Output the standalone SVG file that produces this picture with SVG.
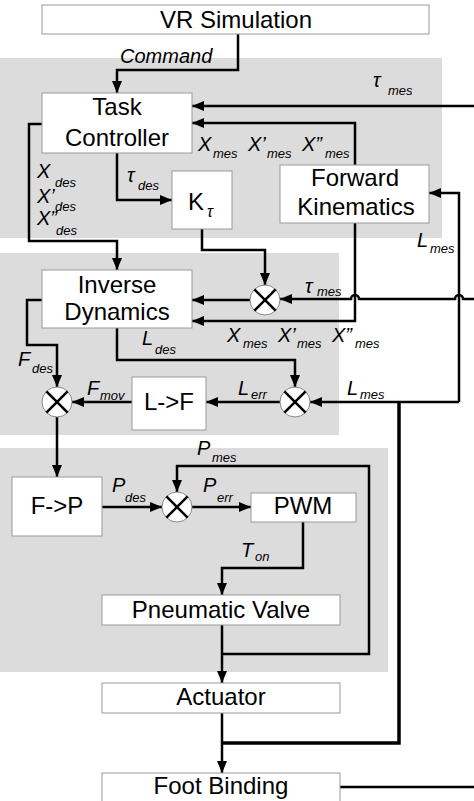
<svg xmlns="http://www.w3.org/2000/svg" width="474" height="801" viewBox="0 0 474 801">
<style>
.panel{fill:#dcdcdc;stroke:none}
.box{fill:#fff;stroke:#999;stroke-width:1}
.lbl{font-family:"Liberation Sans",Arial,sans-serif;font-size:24px;text-anchor:middle;fill:#000}
.it{font-family:"Liberation Sans",Arial,sans-serif;font-style:italic;font-size:20px;fill:#000}
.sub{font-size:13px}
.wire{fill:none;stroke:#000;stroke-width:2.5}
.thick{fill:none;stroke:#000;stroke-width:3.5}
.arr{marker-end:url(#ah)}
.sumc{fill:#fff;stroke:#888;stroke-width:1}
.sumx{stroke:#000;stroke-width:2.5}
</style>
<defs>
<marker id="ah" markerUnits="userSpaceOnUse" markerWidth="12" markerHeight="10" refX="12" refY="5" orient="auto">
<path d="M0,0 L12,5 L0,10 z" fill="#000"/>
</marker>
<g id="sumshape">
<circle cx="0" cy="0" r="15" class="sumc"/>
<line x1="-10.6" y1="-10.6" x2="10.6" y2="10.6" class="sumx"/>
<line x1="-10.6" y1="10.6" x2="10.6" y2="-10.6" class="sumx"/>
</g>
</defs>
<rect x="0" y="0" width="474" height="801" fill="#fff"/>
<g id="panels">
<rect class="panel" x="0" y="58" width="442" height="180"/>
<rect class="panel" x="0" y="253" width="339" height="182"/>
<rect class="panel" x="0" y="448" width="388" height="224"/>
</g>
<g id="connectors">
<path class="wire arr" d="M238,34 V70 H117 V93"/>
<path class="wire arr" d="M474,106 H192"/>
<path class="wire arr" d="M355,165 V123 H192"/>
<path class="wire arr" d="M117,153 V200 H172"/>
<path class="wire arr" d="M42,124 H29 V241 H117 V270"/>
<path class="wire arr" d="M202,229 V250 H265 V285"/>
<path class="wire arr" d="M250,300 H192"/>
<path class="wire arr" d="M474,299 H463 A4,4 0 0 0 455,299 H359 A4,4 0 0 0 351,299 H280"/>
<path class="wire arr" d="M355,223 V321 H192"/>
<path class="wire arr" d="M117,328 V360 H295 V387"/>
<path class="wire arr" d="M42,300 H27 V345 H57 V387"/>
<path class="wire arr" d="M132,402 H72"/>
<path class="wire arr" d="M280,402 H206"/>
<path class="wire arr" d="M459,402 H310"/>
<path class="wire arr" d="M459,402 V193 H429"/>
<path class="thick" d="M222,743 H399 V402"/>
<path class="wire arr" d="M57,417 V477"/>
<path class="wire arr" d="M102,507 H162"/>
<path class="wire arr" d="M192,507 H251"/>
<path class="wire arr" d="M303,522 V568 H222 V595"/>
<path class="wire arr" d="M222,625 V683"/>
<path class="wire arr" d="M222,654 H369 V466 H177 V492"/>
<path class="wire arr" d="M222,713 V773"/>
<path class="wire" d="M340,787 H474"/>
</g>
<g id="vr-simulation">
<rect class="box" x="42" y="5" width="387" height="29"/>
<text class="lbl" x="236" y="28">VR Simulation</text>
</g>
<g id="task-controller">
<rect class="box" x="42" y="93" width="150" height="60"/>
<text class="lbl" x="117" y="115">Task</text>
<text class="lbl" x="117" y="146">Controller</text>
</g>
<g id="k-tau">
<rect class="box" x="172" y="171" width="60" height="58"/>
<text class="lbl" x="188" y="210" style="text-anchor:start">K</text>
<text class="it" x="207" y="217" style="font-size:16px">τ</text>
</g>
<g id="forward-kinematics">
<rect class="box" x="280" y="165" width="149" height="58"/>
<text class="lbl" x="355" y="186">Forward</text>
<text class="lbl" x="356" y="215">Kinematics</text>
</g>
<g id="inverse-dynamics">
<rect class="box" x="42" y="270" width="150" height="58"/>
<text class="lbl" x="117" y="293">Inverse</text>
<text class="lbl" x="117" y="320">Dynamics</text>
</g>
<g id="sum-tau">
<use href="#sumshape" x="265" y="300"/>
</g>
<g id="l-to-f">
<rect class="box" x="132" y="377" width="74" height="53"/>
<text class="lbl" x="169" y="410">L-&gt;F</text>
</g>
<g id="sum-f">
<use href="#sumshape" x="57" y="402"/>
</g>
<g id="sum-l">
<use href="#sumshape" x="295" y="402"/>
</g>
<g id="f-to-p">
<rect class="box" x="12" y="477" width="90" height="59"/>
<text class="lbl" x="57" y="514">F-&gt;P</text>
</g>
<g id="sum-p">
<use href="#sumshape" x="177" y="507"/>
</g>
<g id="pwm">
<rect class="box" x="251" y="493" width="105" height="29"/>
<text class="lbl" x="303" y="514">PWM</text>
</g>
<g id="pneumatic-valve">
<rect class="box" x="102" y="595" width="238" height="30"/>
<text class="lbl" x="221" y="618">Pneumatic Valve</text>
</g>
<g id="actuator">
<rect class="box" x="102" y="683" width="238" height="30"/>
<text class="lbl" x="221" y="705">Actuator</text>
</g>
<g id="foot-binding">
<rect class="box" x="102" y="773" width="238" height="34"/>
<text class="lbl" x="221" y="794">Foot Binding</text>
</g>
<g id="labels">
<text class="it" x="120" y="63">Command</text>
<text class="it" x="373" y="87">τ<tspan class="sub" x="388" y="95">mes</tspan></text>
<text class="it" x="198" y="151">X<tspan class="sub" x="213" y="158">mes</tspan></text>
<text class="it" x="248" y="151">X’<tspan class="sub" x="267" y="158">mes</tspan></text>
<text class="it" x="302" y="151">X”<tspan class="sub" x="325" y="158">mes</tspan></text>
<text class="it" x="127" y="182">τ<tspan class="sub" x="138" y="190">des</tspan></text>
<text class="it" x="37" y="178">X<tspan class="sub" x="55" y="187">des</tspan></text>
<text class="it" x="37" y="203">X’<tspan class="sub" x="55" y="211">des</tspan></text>
<text class="it" x="37" y="225">X”<tspan class="sub" x="56" y="235">des</tspan></text>
<text class="it" x="305" y="293">τ<tspan class="sub" x="317" y="296">mes</tspan></text>
<text class="it" x="227" y="342">X<tspan class="sub" x="243" y="348">mes</tspan></text>
<text class="it" x="278" y="342">X’<tspan class="sub" x="297" y="348">mes</tspan></text>
<text class="it" x="332" y="342">X”<tspan class="sub" x="355" y="348">mes</tspan></text>
<text class="it" x="142" y="345">L<tspan class="sub" x="155" y="354">des</tspan></text>
<text class="it" x="18" y="366">F<tspan class="sub" x="32" y="373">des</tspan></text>
<text class="it" x="87" y="395">F<tspan class="sub" x="100" y="400">mov</tspan></text>
<text class="it" x="238" y="395">L<tspan class="sub" x="251" y="399">err</tspan></text>
<text class="it" x="347" y="395">L<tspan class="sub" x="360" y="399">mes</tspan></text>
<text class="it" x="417" y="247">L<tspan class="sub" x="430" y="253">mes</tspan></text>
<text class="it" x="197" y="455">P<tspan class="sub" x="212" y="462">mes</tspan></text>
<text class="it" x="112" y="492">P<tspan class="sub" x="125" y="502">des</tspan></text>
<text class="it" x="203" y="492">P<tspan class="sub" x="217" y="502">err</tspan></text>
<text class="it" x="241" y="557">T<tspan class="sub" x="255" y="561">on</tspan></text>
</g>
</svg>
